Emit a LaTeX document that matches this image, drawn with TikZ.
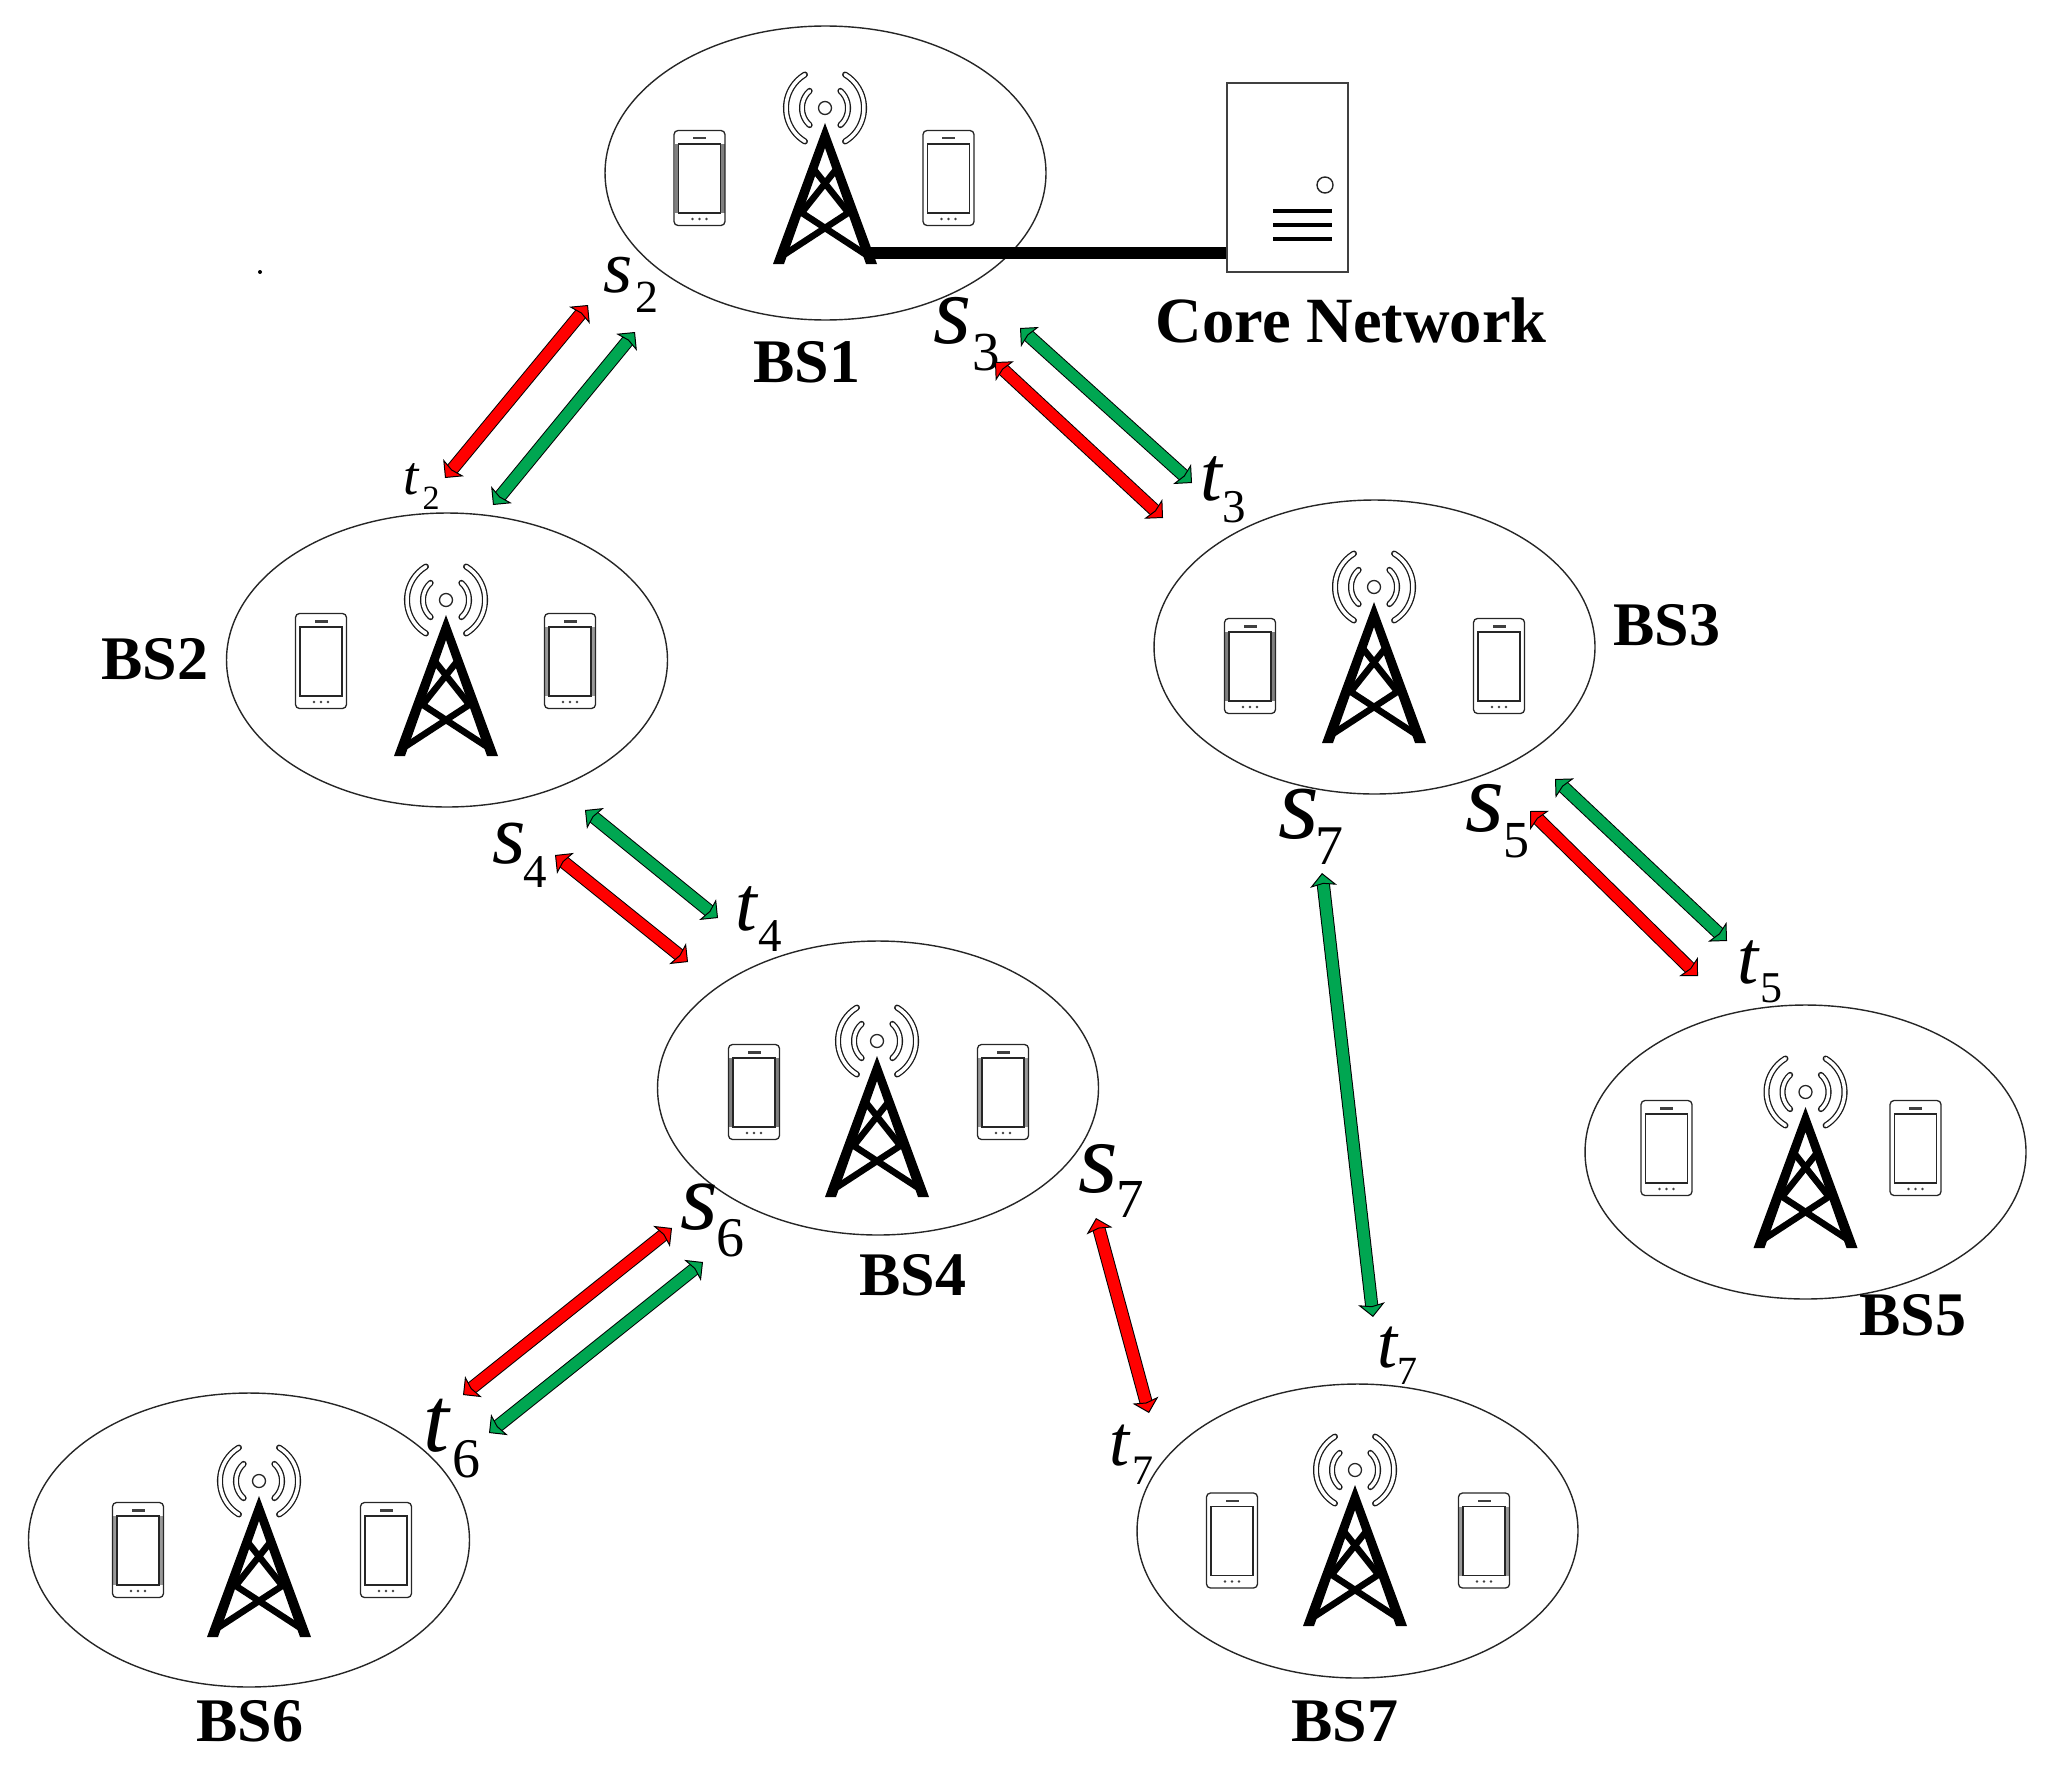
\documentclass[tikz,border=0pt]{standalone}
\usepackage{fontspec}
\setmainfont{Liberation Serif}
\usetikzlibrary{positioning, shapes.geometric, arrows.meta}

\newdimen\px
\px=0.2845pt

\definecolor{link_green}{RGB}{0,166,81}
\definecolor{link_red}{RGB}{255,0,0}

% one handset, x and y offset and colour of the side bands
\newcommand{\phone}[3]{
\begin{scope}[shift={(#1,#2)}]
\fill[#3] (-25,-34) rectangle (-20.5,35);
\fill[#3] (20.5,-34) rectangle (25,35);
\draw[phone_style, rounded corners=4\px] (-25.5,-47.5) rectangle (25.5,47.5);
\draw[phone_style] (-21,-34) rectangle (21,35);
\fill[black!75] (-6.5,-41) rectangle (6.5,-38.5);
\fill[black!75] (-7,41) circle (1.4\px);
\fill[black!75] (0,41) circle (1.4\px);
\fill[black!75] (7,41) circle (1.4\px);
\end{scope}
}

% mast and the two handsets inside a cell
\newcommand{\bscell}[8]{
\begin{scope}[shift={(#1.center)}]
\begin{scope}[shift={(#2,#3)}]
\fill (-52,91) -- (0,-50) -- (52,91) -- (41,91) -- (0,-25) -- (-41,91) -- cycle;
\draw[mast_style] (-13,-6) -- (22,38);
\draw[mast_style] (13,-6) -- (-22,38);
\draw[mast_style] (-26,38) -- (46,85);
\draw[mast_style] (26,38) -- (-46,85);
\draw[wave_style] (0,-65) circle (6.5\px);
\draw[band_style] ([shift={(0,-65)}]48:23) arc[start angle=48, end angle=-48, radius=23];
\draw[band_style] ([shift={(0,-65)}]132:23) arc[start angle=132, end angle=228, radius=23];
\draw[band_style] ([shift={(0,-65)}]59:39) arc[start angle=59, end angle=-59, radius=39];
\draw[band_style] ([shift={(0,-65)}]121:39) arc[start angle=121, end angle=239, radius=39];
\end{scope}
\phone{#4}{#6}{#7}
\phone{#5}{#6}{#8}
\end{scope}
}

% letter, its size, index, its size, shift to the index, drop of the index
\newcommand{\idxlabel}[6]{{\fontsize{#2\px}{#2\px}\selectfont\itshape\makebox[#5\px][l]{#1}}\raisebox{-#6\px}{\fontsize{#4\px}{#4\px}\selectfont #3}}

\begin{document}
\begin{tikzpicture}[x=0.1mm, y=-0.1mm]

\tikzstyle{bs_style} = [ellipse, draw=black!85, line width=1.4\px, minimum width=441\px, minimum height=294\px, inner sep=0pt]
\tikzstyle{core_style} = [rectangle, draw=black!75, line width=1.6\px, minimum width=121\px, minimum height=189\px, inner sep=0pt]
\tikzstyle{mast_style} = [line width=6.5\px]
\tikzstyle{wave_style} = [draw=black!85, line width=1.3\px]
\tikzstyle{band_style} = [draw=black!90, double=white, line width=1.3\px, double distance=3.5\px, line cap=round]
\tikzstyle{phone_style} = [draw=black!85, line width=1.3\px]
\tikzstyle{cable_style} = [line width=12.5\px]
\tikzstyle{name_style} = [font=\fontsize{62\px}{62\px}\selectfont\bfseries, anchor=base, inner sep=0pt]
\tikzstyle{idx_style} = [anchor=base west, inner sep=0pt]
\tikzstyle{red_link} = [draw=black, double=link_red, line width=0.28pt, double distance=3.2pt, {Stealth[length=3.8pt, width=7.6pt, inset=0.7pt, fill=link_red, line width=0.28pt]}-{Stealth[length=3.8pt, width=7.6pt, inset=0.7pt, fill=link_red, line width=0.28pt]}]
\tikzstyle{green_link} = [draw=black, double=link_green, line width=0.28pt, double distance=3.2pt, {Stealth[length=3.8pt, width=7.6pt, inset=0.7pt, fill=link_green, line width=0.28pt]}-{Stealth[length=3.8pt, width=7.6pt, inset=0.7pt, fill=link_green, line width=0.28pt]}]

\useasboundingbox (0,0) rectangle (2057,1791);

\node[bs_style] (bs1) at (825.5, 173) {};
\node[bs_style] (bs2) at (447, 660) {};
\node[bs_style] (bs3) at (1374.5, 647) {};
\node[bs_style] (bs4) at (878, 1088) {};
\node[bs_style] (bs5) at (1805.5, 1152) {};
\node[bs_style] (bs6) at (249, 1540) {};
\node[bs_style] (bs7) at (1357.5, 1531) {};

\bscell{bs1}{-0.5}{0}{-126}{123}{5}{gray}{white}
\bscell{bs2}{-1}{5}{-126}{123}{1}{white}{black!40}
\bscell{bs3}{-0.5}{5}{-124.5}{124.5}{19}{gray}{white}
\bscell{bs4}{-1}{18}{-124}{125}{4}{gray}{black!40}
\bscell{bs5}{0}{5}{-139}{110}{-4}{white}{white}
\bscell{bs6}{10}{6}{-111}{137}{10}{black!40}{white}
\bscell{bs7}{-2.5}{4}{-125.5}{126.5}{9.5}{white}{black!40}

\node[core_style] (core) at (1287.5, 177.5) {};
\draw[wave_style, line width=1.4\px] (1325, 185) circle (8\px);
\draw[line width=4\px] (1273, 211) -- (1332, 211);
\draw[line width=4\px] (1273, 225) -- (1332, 225);
\draw[line width=4\px] (1273, 239) -- (1332, 239);

\coordinate (foot) at (865, 253);
\draw[cable_style] (foot) -- (core.west |- foot);

\node[name_style] (n1) at (807, 382) {BS1};
\node[name_style] (n2) at (155, 679) {BS2};
\node[name_style] (n3) at (1667, 645) {BS3};
\node[name_style] (n4) at (913, 1295) {BS4};
\node[name_style] (n5) at (1913, 1335) {BS5};
\node[name_style] (n6) at (250, 1741) {BS6};
\node[name_style] (n7) at (1345, 1741) {BS7};
\node[name_style, anchor=base west, font=\fontsize{64.5\px}{64.5\px}\selectfont\bfseries] (n0) at (1155, 342) {Core Network};

\node[idx_style] (s2) at (603, 292) {\idxlabel{s}{75}{2}{46}{32}{20}};
\node[idx_style] (t2) at (403, 494) {\idxlabel{t}{55}{2}{34}{19}{15}};
\node[idx_style] (s3) at (933, 343) {\idxlabel{s}{98}{3}{55}{39}{27}};
\node[idx_style] (t3) at (1200, 500) {\idxlabel{t}{78}{3}{47}{22}{22}};
\node[idx_style] (s4) at (492, 863) {\idxlabel{s}{86}{4}{47}{31}{24}};
\node[idx_style] (t4) at (735, 930) {\idxlabel{t}{78}{4}{47}{23}{21}};
\node[idx_style] (s5) at (1465, 831) {\idxlabel{s}{100}{5}{52}{38}{26}};
\node[idx_style] (t5) at (1737, 983) {\idxlabel{t}{76}{5}{44}{23}{19}};
\node[idx_style] (s6) at (680, 1229) {\idxlabel{s}{97}{6}{56}{36}{27}};
\node[idx_style] (t6) at (423, 1451) {\idxlabel{t}{93}{6}{56}{29}{26}};
\node[idx_style] (s7a) at (1278, 838) {\idxlabel{s}{105}{7}{56}{37}{26}};
\node[idx_style] (t7a) at (1377, 1367) {\idxlabel{t}{72}{7}{40}{20}{17}};
\node[idx_style] (s7b) at (1078, 1192) {\idxlabel{s}{102}{7}{55}{38}{25}};
\node[idx_style] (t7b) at (1109, 1465) {\idxlabel{t}{72}{7}{42}{23}{19}};

\coordinate (r2a) at (588, 305);
\coordinate (r2b) at (445, 478);
\coordinate (g2a) at (635, 332);
\coordinate (g2b) at (493, 505);
\coordinate (g3a) at (1020, 328);
\coordinate (g3b) at (1192, 483);
\coordinate (r3a) at (995, 362);
\coordinate (r3b) at (1163, 518);
\coordinate (g4a) at (585, 810);
\coordinate (g4b) at (718, 918);
\coordinate (r4a) at (555, 855);
\coordinate (r4b) at (688, 962);
\coordinate (g5a) at (1555, 779);
\coordinate (g5b) at (1727, 941);
\coordinate (r5a) at (1530, 811);
\coordinate (r5b) at (1698, 976);
\coordinate (r6a) at (672, 1228);
\coordinate (r6b) at (463, 1395);
\coordinate (g6a) at (703, 1262);
\coordinate (g6b) at (489, 1433);
\coordinate (g7a) at (1322, 873);
\coordinate (g7b) at (1373, 1317);
\coordinate (r7a) at (1096, 1218);
\coordinate (r7b) at (1149, 1413);

\draw[red_link] (r2a) -- (r2b);
\draw[green_link] (g2a) -- (g2b);
\draw[green_link] (g3a) -- (g3b);
\draw[red_link] (r3a) -- (r3b);
\draw[green_link] (g4a) -- (g4b);
\draw[red_link] (r4a) -- (r4b);
\draw[green_link] (g5a) -- (g5b);
\draw[red_link] (r5a) -- (r5b);
\draw[red_link] (r6a) -- (r6b);
\draw[green_link] (g6a) -- (g6b);
\draw[green_link] (g7a) -- (g7b);
\draw[red_link] (r7a) -- (r7b);

\fill (260, 272) circle (2\px);

\end{tikzpicture}
\end{document}
